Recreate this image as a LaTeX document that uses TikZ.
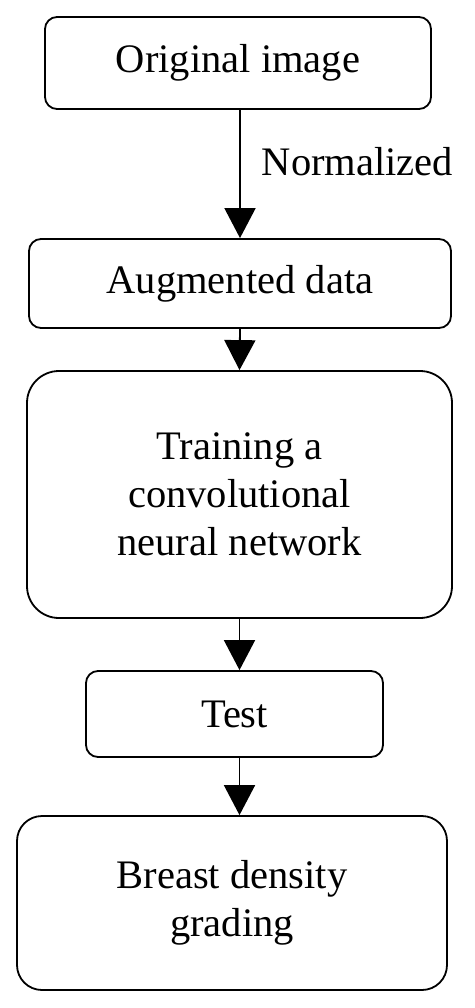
\documentclass[tikz,border=0pt]{standalone}
\usepackage{fontspec}
\setmainfont{Liberation Serif}
\usetikzlibrary{arrows.meta,positioning}
\begin{document}
\begin{tikzpicture}[x=1pt,y=-1pt,
  box/.style={draw, line width=1.8pt, rounded corners=12pt, align=center, inner sep=0pt},
  arr/.style={line width=1.8pt, -{Triangle[width=31pt,length=30pt]}},
  lbl/.style={inner sep=0pt}]

\tikzstyle{every node}=[font=\fontsize{40.5}{48}\selectfont];

\fill[white] (0,0) rectangle (474,1008);

\node[box, minimum width=386pt, minimum height=92pt] (orig) at (238,63) {Original image};
\node[box, minimum width=422pt, minimum height=89pt] (aug) at (240,283.5) {Augmented data};
\node[box, rounded corners=32pt, minimum width=425pt, minimum height=247pt] (train) at (239.5,494.5) {Training a\\convolutional\\neural network};
\node[box, minimum width=297pt, minimum height=86pt] (test) at (234.5,714) {Test};
\node[box, rounded corners=25pt, minimum width=430pt, minimum height=174pt] (grade) at (232,903) {Breast density\\grading};

\draw[arr] (aug.north |- orig.south) -- node[lbl, right=21pt, pos=0.4] {Normalized} (aug.north);
\draw[arr] (aug.south) -- (train.north);
\draw[arr] (train.south) -- (train.south |- test.north);
\draw[arr] (train.south |- test.south) -- (train.south |- grade.north);
\end{tikzpicture}
\end{document}
